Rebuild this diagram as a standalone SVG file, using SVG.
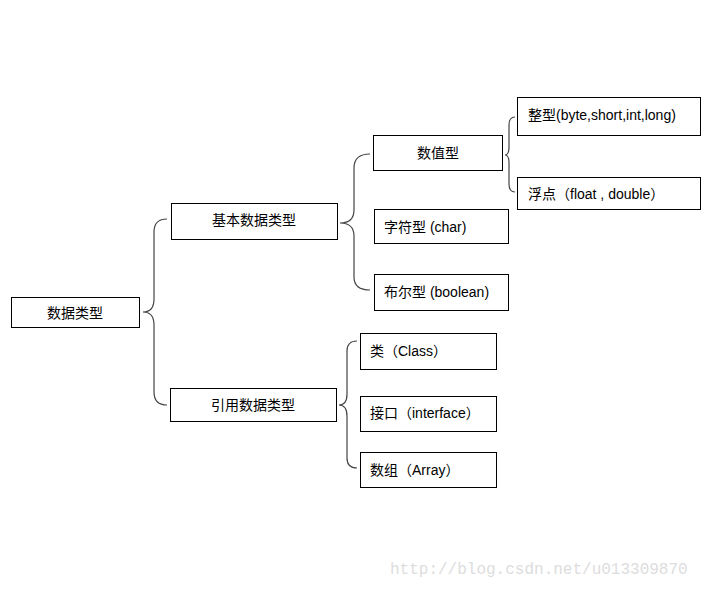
<svg xmlns="http://www.w3.org/2000/svg" width="711" height="589" viewBox="0 0 711 589">
<style>
rect{fill:#fff;stroke:#000;stroke-width:1}
text{font-family:"Liberation Sans","Noto Sans CJK SC",sans-serif;font-size:14px;fill:#000;dominant-baseline:central}
.c{text-anchor:middle}
path{fill:none;stroke:#444;stroke-width:1.2}
.wm{font-family:"Liberation Mono",monospace;font-size:16px;fill:#ddd}
</style>
<rect x="0" y="0" width="711" height="589" style="stroke:none"/>
<g id="connectors">
<path d="M167,219 Q154,219 154,232 L154,299 Q154,312 143,312 Q154,312 154,325 L154,392 Q154,405 167,405"/>
<path d="M370,154 Q354,154 354,168 L354,210 Q354,223 340,223 Q354,223 354,236 L354,277 Q354,290 370,290"/>
<path d="M515,117 Q509,117 509,125 L509,147 Q509,155 505,155 Q509,155 509,163 L509,184 Q509,192 515,192"/>
<path d="M357,341 Q347,341 347,351 L347,394 Q347,405 339,405 Q347,405 347,416 L347,458 Q347,468 357,468"/>
</g>
<g id="n-root"><rect x="11.5" y="297.5" width="128" height="30"/><text class="c" x="75" y="313">数据类型</text></g>
<g id="n-basic"><rect x="171.5" y="203.5" width="166" height="36"/><text class="c" x="254" y="220">基本数据类型</text></g>
<g id="n-ref"><rect x="170.5" y="388.5" width="166" height="33"/><text class="c" x="253" y="405">引用数据类型</text></g>
<g id="n-num"><rect x="373.5" y="135.5" width="129" height="35"/><text class="c" x="438" y="153">数值型</text></g>
<g id="n-int"><rect x="517.5" y="97.5" width="183" height="38"/><text x="528" y="115">整型(byte,short,int,long)</text></g>
<g id="n-float"><rect x="517.5" y="177.5" width="183" height="32"/><text x="528" y="194">浮点（float , double）</text></g>
<g id="n-char"><rect x="374.5" y="209.5" width="134" height="34"/><text x="384" y="227">字符型 (char)</text></g>
<g id="n-bool"><rect x="374.5" y="274.5" width="134" height="36"/><text x="384" y="292">布尔型 (boolean)</text></g>
<g id="n-class"><rect x="360.5" y="333.5" width="136" height="36"/><text x="370" y="351">类（Class）</text></g>
<g id="n-iface"><rect x="360.5" y="396.5" width="136" height="35"/><text x="370" y="413">接口（interface）</text></g>
<g id="n-array"><rect x="360.5" y="452.5" width="136" height="35"/><text x="370" y="470">数组（Array）</text></g>
<text class="wm" x="390" y="570">http://blog.csdn.net/u013309870</text>
</svg>
